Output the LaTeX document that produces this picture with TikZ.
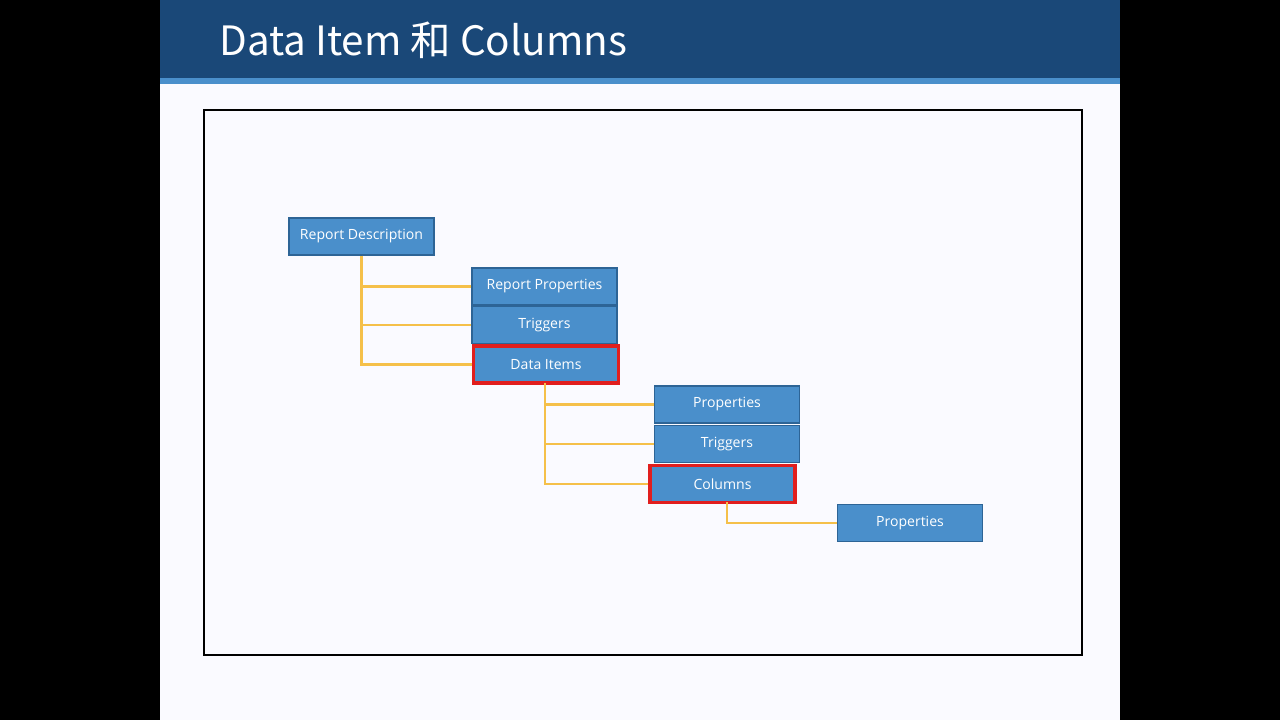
\documentclass[tikz,border=0pt]{standalone}
\usepackage{fontspec}
\setmainfont{Open Sans}
\newfontfamily\titlefont{Noto Sans CJK SC}
\definecolor{barblue}{RGB}{26,72,120}
\definecolor{boxblue}{RGB}{74,143,203}
\definecolor{boxedge}{RGB}{45,100,150}
\definecolor{linkyellow}{RGB}{245,192,74}
\definecolor{markred}{RGB}{225,30,30}
\begin{document}
\begin{tikzpicture}[x=0.02cm, y=-0.02cm,
	itembox/.style={draw=boxedge, line width=1pt, fill=boxblue, text=white,
		minimum width=2.9cm, minimum height=0.74cm, inner sep=0pt, font=\fontsize{8}{10}\selectfont},
	marked/.style={itembox, draw=markred, line width=2pt},
	link/.style={linkyellow, line width=1.5pt}]

	\fill[black](0,0)rectangle(1280,720);
	\useasboundingbox(0,0)rectangle(1280,720);
	\fill[white!98!blue](160,0)rectangle(1120,720);
	\fill[barblue](160,0)rectangle(1120,80);
	\fill[boxblue](160,78)rectangle(1120,84);
	\node[anchor=west, text=white, font=\titlefont\fontsize{23}{26}\selectfont] (title) at (213,40) {Data Item 和 Columns};

	\draw[line width=1pt](204,110)rectangle(1082,655);

	\node[itembox] (rd) at (361.5,236.5) {Report Description};
	\node[itembox] (rp) at (544.5,286.5) {Report Properties};
	\node[itembox] (tr) at (544.5,325) {Triggers};
	\node[marked] (di) at (546,364.5) {Data Items};

	\node[itembox] (pr) at (727,404.5) {Properties};
	\node[itembox] (tg) at (727,444) {Triggers};
	\node[marked] (co) at (722.5,484) {Columns};

	\node[itembox] (cp) at (910,523) {Properties};

	\draw[link](rd.south) |- (rp.west);
	\draw[link](rd.south) |- (tr.west);
	\draw[link](rd.south) |- (di.west);
	\coordinate (ds) at (545,383);
	\draw[link](ds) |- (pr.west);
	\draw[link](ds) |- (tg.west);
	\draw[link](ds) |- (co.west);
	\coordinate (cs) at (727,502);
	\draw[link](cs) |- (cp.west);

\end{tikzpicture}
\end{document}
